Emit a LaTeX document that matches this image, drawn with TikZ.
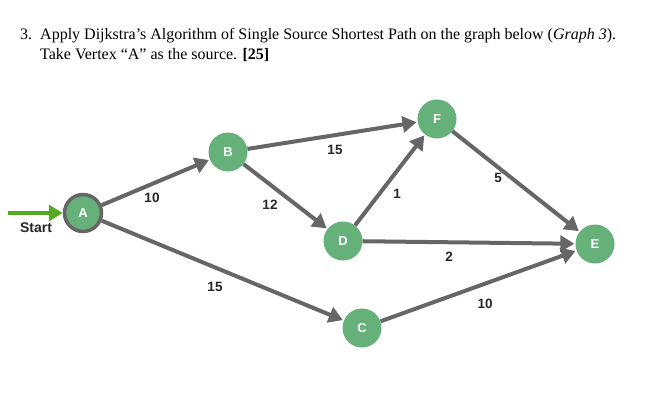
\documentclass[tikz,border=0pt]{standalone}
\usepackage{fontspec}
\setmainfont{Liberation Serif}
\newfontfamily\lsans{Liberation Sans}
\usetikzlibrary{arrows.meta}
\definecolor{ngreen}{HTML}{66B07A}
\definecolor{egray}{HTML}{666666}
\definecolor{sgreen}{HTML}{55AA22}
\tikzset{
  vert/.style={circle,fill=ngreen,minimum size=39pt,inner sep=0pt,font=\lsans\bfseries\fontsize{13}{13}\selectfont,text=white},
  edge/.style={draw=egray,line width=4pt,-{Triangle[length=14pt,width=16pt]},shorten >=1pt},
  wlab/.style={font=\lsans\bfseries\fontsize{13.5}{14}\selectfont,text=black!85}
}
\begin{document}
\begin{tikzpicture}[x=1pt,y=-1pt]
\useasboundingbox (0,0) rectangle (647,412);
\node[anchor=west,font=\fontsize{16}{18}\selectfont,inner sep=0pt] (t1) at (20,36) {3.\ \ Apply Dijkstra’s Algorithm of Single Source Shortest Path on the graph below (\textit{Graph 3}).};
\node[anchor=west,font=\fontsize{16}{18}\selectfont,inner sep=0pt] (t2) at (40,55) {Take Vertex “A” as the source. \textbf{[25]}};
\node[vert,draw=egray,line width=3.5pt,minimum size=37pt] (A) at (83,213) {A};
\node[vert] (B) at (228,152) {B};
\node[vert] (F) at (437,119) {F};
\node[vert] (D) at (343,241) {D};
\node[vert] (E) at (595,244) {E};
\node[vert] (C) at (362,328) {C};
\coordinate (S) at (8,213);
\draw[draw=sgreen,line width=3.5pt,-{Triangle[length=14pt,width=16pt]}] (S) -- (A);
\node[wlab,font=\lsans\bfseries\fontsize{14}{14}\selectfont] (st) at (36,228) {Start};
\draw[edge] (A) -- (B);
\draw[edge] (A) -- (C);
\draw[edge] (B) -- (F);
\draw[edge] (B) -- (D);
\draw[edge] (D) -- (F);
\draw[edge] (D) -- (E);
\draw[edge] (F) -- (E);
\draw[edge] (C) -- (E);
\node[wlab] (l1) at (152,198) {10};
\node[wlab] (l2) at (335,150) {15};
\node[wlab] (l3) at (270,205) {12};
\node[wlab] (l4) at (397,194) {1};
\node[wlab] (l5) at (498,178) {5};
\node[wlab] (l6) at (449,257) {2};
\node[wlab] (l7) at (215,287) {15};
\node[wlab] (l8) at (485,304) {10};
\end{tikzpicture}
\end{document}
